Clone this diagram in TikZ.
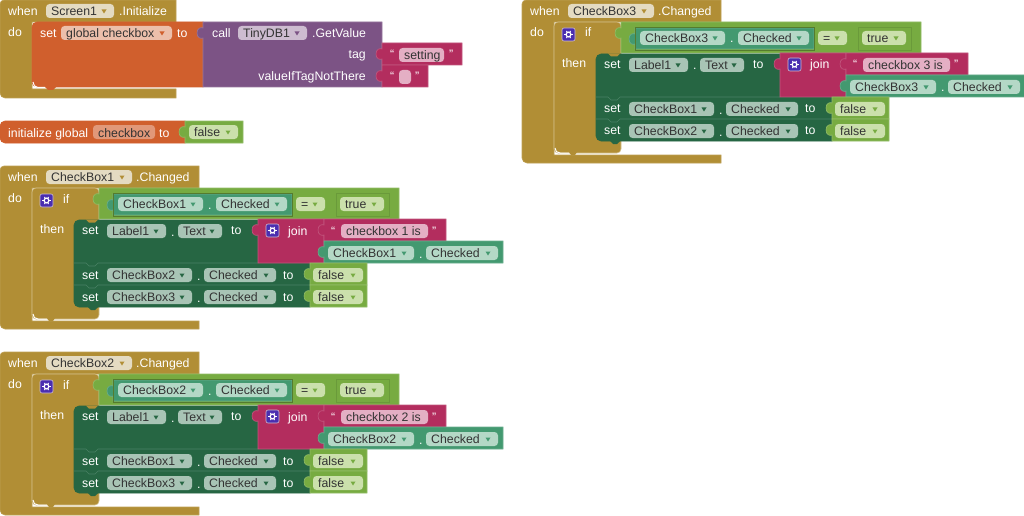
\documentclass[tikz,border=0pt]{standalone}
\usepackage{fontspec}
\setmainfont{Liberation Sans}

\definecolor{hatgold}{HTML}{B18E35}
\definecolor{goldedge}{HTML}{D3BF8A}
\definecolor{varorange}{HTML}{D05F2D}
\definecolor{procpurple}{HTML}{7C5385}
\definecolor{textpink}{HTML}{B32D5E}
\definecolor{logicgreen}{HTML}{77AB41}
\definecolor{logicdark}{HTML}{6A9A3A}
\definecolor{getteal}{HTML}{439970}
\definecolor{setgreen}{HTML}{266643}
\definecolor{rowedge}{HTML}{4A8265}
\definecolor{gearblue}{HTML}{4A2EB0}
\definecolor{pillgold}{HTML}{E4DBC2}
\definecolor{pillorange}{HTML}{ECBFAB}
\definecolor{pillpurple}{HTML}{CDBCD0}
\definecolor{pillpink}{HTML}{E4AFC4}
\definecolor{pillgreen}{HTML}{CBE0AC}
\definecolor{pillteal}{HTML}{B4D8C6}
\definecolor{pillset}{HTML}{A8C4B5}

\tikzset{
  blocklabel/.style={anchor=base west, inner sep=0pt, text=white, font=\fontsize{12.3}{14}\selectfont},
  blocklabelr/.style={blocklabel, anchor=base east},
  pilllabel/.style={blocklabel, text=black!80},
  pillbox/.style={rounded corners=3.5pt},
}

\newcounter{lab}
\newcommand{\lab}[3]{\stepcounter{lab}\node[blocklabel] (lab\thelab) at (#1,#2) {#3};}
\newcommand{\labr}[3]{\stepcounter{lab}\node[blocklabelr] (lab\thelab) at (#1,#2) {#3};}
\newcommand{\pill}[6]{
  \fill[pillbox, #5] (#1,#3) rectangle (#2,#3+14);
  \stepcounter{lab}\node[pilllabel] (lab\thelab) at (#1+5,#3+11.5) {#4};
  \fill[#6] (#2-12.5,#3+5.5) -- (#2-7.5,#3+5.5) -- (#2-10,#3+9.5) -- cycle;
}
\newcommand{\strpill}[4]{
  \fill[pillbox, pillpink] (#1,#3) rectangle (#2,#3+14);
  \stepcounter{lab}\node[pilllabel] (lab\thelab) at (#1+5,#3+11.5) {#4};
}
\newcommand{\valblock}[5]{
  \filldraw[fill=#5, draw=#5!80!white, line width=0.6pt] (#1,#3) -- (#2,#3) -- (#2,#4) -- (#1,#4) -- (#1,#3+16)
    .. controls (#1-2,#3+17) and (#1-6,#3+16) .. (#1-6,#3+11)
    .. controls (#1-6,#3+6) and (#1-2,#3+5) .. (#1,#3+6) -- cycle;
}
\newcommand{\gearbox}[2]{
  \filldraw[fill=gearblue, draw=pillpurple, line width=0.6pt, rounded corners=2pt] (#1,#2) rectangle (#1+13,#2+13);
  \draw[white, line width=1.2pt] (#1+6.5,#2+6.5) circle (2.4);
  \foreach \a in {0,60,...,300}
    \draw[white, line width=1pt] (#1+6.5,#2+6.5) ++(\a:2.6) -- ++(\a:1.5);
}
\newcommand{\hatblock}[3]{
  \filldraw[fill=hatgold, draw=hatgold!85!white, line width=0.6pt] (0,10) [rounded corners=4pt] -- (0,0) [sharp corners] -- (#1,0) -- (#1,22) -- (32,22) -- (32,#2) -- (#1,#2) -- (#1,#3) [rounded corners=5pt] -- (0,#3) -- cycle;
}
\newcommand{\changedblock}[6]{
  \begin{scope}[shift={(#1,#2)}]
    \hatblock{199}{155}{163}
    \lab{8}{15.5}{when}
    \pill{46}{132}{4}{#3}{pillgold}{hatgold}
    \lab{136}{15.5}{.Changed}
    \lab{8}{36.5}{do}
    \filldraw[fill=hatgold, draw=goldedge, line width=0.6pt, rounded corners=4pt] (32,22) -- (99,22) -- (99,153) -- (32,153) -- cycle;
    \fill[hatgold] (47,152) -- (55,152) -- (53,155) -- (49,155) -- cycle;
    \draw[white, line width=1pt] (33,148) .. controls (33,151) and (35,153) .. (38,153) -- (47,153);
    \gearbox{40}{28}
    \lab{63}{37}{if}
    \lab{40}{67.5}{then}
    \valblock{99}{399}{22}{53}{logicgreen}
    \valblock{113}{292}{28}{49}{getteal}
    \draw[logicdark!80!black, line width=0.4pt] (113,27) rectangle (292.5,50);
    \pill{118}{203}{31}{#3}{pillteal}{getteal}
    \lab{208}{43}{.}
    \pill{216}{287}{31}{Checked}{pillteal}{getteal}
    \pill{296}{325}{31}{=}{pillgreen}{logicgreen}
    \filldraw[fill=logicgreen, draw=logicdark, line width=0.4pt] (336,27) rectangle (389,50);
    \pill{340}{384}{31}{true}{pillgreen}{logicgreen}
    \filldraw[fill=setgreen, draw=setgreen, line width=0.6pt] (74,94) [rounded corners=5pt] -- (74,54) [sharp corners] -- (258,54) -- (258,97) -- (310,97) -- (310,141) [rounded corners=5pt] -- (74,141) -- cycle;
    \fill[hatgold] (86,53.5) -- (98,53.5) -- (95,56.5) -- (89,56.5) -- cycle;
    \fill[setgreen] (88,141) -- (98,141) -- (95,144) -- (91,144) -- cycle;
    \draw[rowedge, line width=0.6pt] (74,97) -- (86,97) -- (89,100) -- (95,100) -- (98,97) -- (258,97);
    \draw[rowedge, line width=0.6pt] (74,119) -- (86,119) -- (89,122) -- (95,122) -- (98,119) -- (310,119);
    \lab{82}{68.5}{set}
    \pill{107}{166}{58}{Label1}{pillset}{setgreen}
    \lab{171}{70}{.}
    \pill{178}{222}{58}{Text}{pillset}{setgreen}
    \lab{231}{68.5}{to}
    \valblock{258}{324}{53}{97}{textpink}
    \gearbox{266}{58}
    \lab{288}{69}{join}
    \valblock{324}{446}{53}{75}{textpink}
    \lab{331}{69}{“}
    \strpill{341}{428}{58}{#4}
    \lab{432}{69}{”}
    \valblock{324}{503}{75}{97}{getteal}
    \pill{328}{414}{80}{#3}{pillteal}{getteal}
    \lab{419}{92}{.}
    \pill{426}{498}{80}{Checked}{pillteal}{getteal}
    \lab{82}{113}{set}
    \pill{107}{192}{102}{#5}{pillset}{setgreen}
    \lab{197}{114}{.}
    \pill{204}{276}{102}{Checked}{pillset}{setgreen}
    \lab{283}{113}{to}
    \valblock{310}{367}{97}{119}{logicgreen}
    \pill{313}{363}{102}{false}{pillgreen}{logicgreen}
    \lab{82}{135}{set}
    \pill{107}{192}{124}{#6}{pillset}{setgreen}
    \lab{197}{136}{.}
    \pill{204}{276}{124}{Checked}{pillset}{setgreen}
    \lab{283}{135}{to}
    \valblock{310}{367}{119}{141}{logicgreen}
    \pill{313}{363}{124}{false}{pillgreen}{logicgreen}
  \end{scope}
}

\begin{document}
\begin{tikzpicture}[x=1pt, y=-1pt]
  \useasboundingbox (0,0) rectangle (1024,516);

  \hatblock{176}{89}{98}
  \lab{8}{15.5}{when}
  \pill{46}{114}{4}{Screen1}{pillgold}{hatgold}
  \lab{119}{15.5}{.Initialize}
  \lab{8}{36.5}{do}
  \filldraw[fill=varorange, draw=varorange, line width=0.6pt] (32,60) [rounded corners=5pt] -- (32,22) [sharp corners] -- (203,22) -- (203,87) [rounded corners=5pt] -- (32,87) -- cycle;
  \fill[varorange] (45,87) -- (56,87) -- (53,90) -- (48,90) -- cycle;
  \draw[white, line width=1pt] (33,82) .. controls (33,85) and (35,87.5) .. (38,87.5) -- (45,87.5);
  \lab{40}{37.5}{set}
  \pill{61}{172}{26}{global checkbox}{pillorange}{varorange}
  \lab{177}{37.5}{to}
  \valblock{203}{382}{22}{87}{procpurple}
  \lab{212}{37.5}{call}
  \pill{238}{307}{26}{TinyDB1}{pillpurple}{procpurple}
  \lab{312}{37.5}{.GetValue}
  \labr{366}{59}{tag}
  \labr{366}{81}{valueIfTagNotThere}
  \valblock{382}{462}{43}{65}{textpink}
  \lab{390}{59}{“}
  \strpill{399}{444}{48}{setting}
  \lab{449}{59}{”}
  \valblock{382}{428}{65}{87}{textpink}
  \lab{390}{81}{“}
  \fill[pillbox, pillpink] (399,70) rectangle (411,84);
  \lab{415}{81}{”}

  \filldraw[fill=varorange, draw=varorange, line width=0.6pt] (0,132) [rounded corners=5pt] -- (0,121) [sharp corners] -- (185,121) -- (185,143) [rounded corners=5pt] -- (0,143) -- cycle;
  \lab{8}{137}{initialize global}
  \fill[pillbox, pillorange!60!varorange] (93,125) rectangle (155,139);
  \stepcounter{lab}\node[pilllabel] (lab\thelab) at (98,137) {checkbox};
  \lab{159}{137}{to}
  \valblock{185}{243}{121}{143}{logicgreen}
  \pill{189}{238}{125}{false}{pillgreen}{logicgreen}

  \changedblock{0}{166}{CheckBox1}{checkbox 1 is}{CheckBox2}{CheckBox3}
  \changedblock{0}{352}{CheckBox2}{checkbox 2 is}{CheckBox1}{CheckBox3}
  \changedblock{522}{0}{CheckBox3}{checkbox 3 is}{CheckBox1}{CheckBox2}
\end{tikzpicture}
\end{document}
